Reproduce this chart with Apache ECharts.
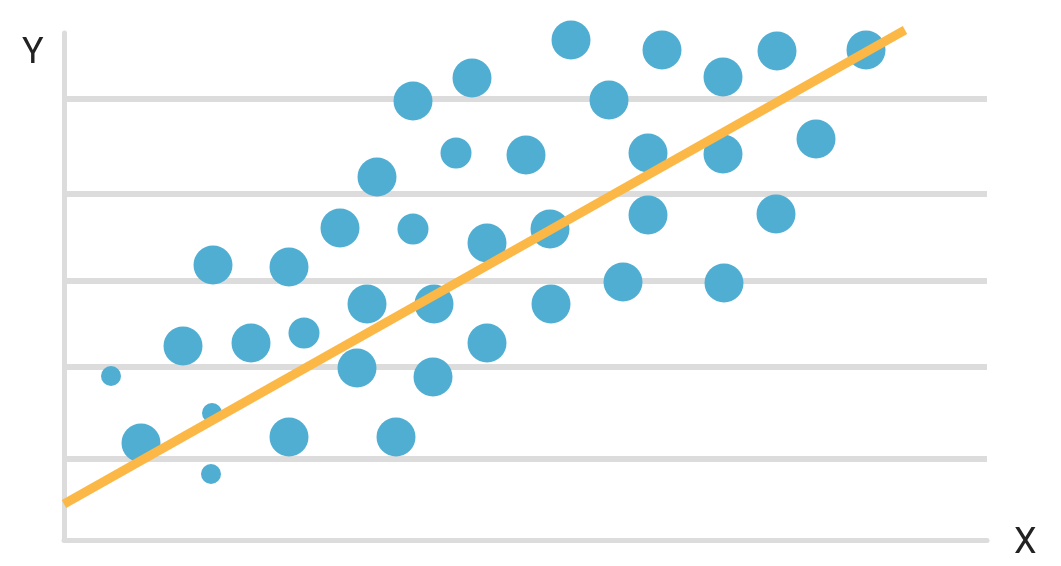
<!DOCTYPE html>
<html>
<head>
<meta charset="utf-8">
<script src="https://cdn.jsdelivr.net/npm/echarts@6/dist/echarts.min.js"></script>
<style>
html, body { margin: 0; padding: 0; background: #fff; }
#chart { width: 1061px; height: 566px; }
</style>
</head>
<body>
<div id="chart"></div>
<script>
// points: [x, y, weight]  (weight 1 = small, 2 = medium, 3 = large)
const points = [
  [47, 164, 1], [77, 97, 3], [148, 127, 1], [147, 66, 1], [119, 194, 3],
  [149, 275, 3], [187, 197, 3], [225, 273, 3], [240, 207, 2], [225, 103, 3],
  [276, 312, 3], [303, 236, 3], [293, 172, 3], [313, 363, 3], [332, 103, 3],
  [349, 439, 3], [349, 311, 2], [369, 163, 3], [370, 236, 3], [392, 387, 2],
  [408, 462, 3], [423, 297, 3], [423, 197, 3], [462, 385, 3], [486, 311, 3],
  [487, 236, 3], [507, 500, 3], [545, 440, 3], [559, 258, 3], [584, 387, 3],
  [584, 325, 3], [598, 490, 3], [659, 463, 3], [659, 386, 3], [660, 257, 3],
  [713, 489, 3], [712, 326, 3], [752, 401, 3], [802, 490, 3]
];
// trend line end points
const trend = [[0, 36], [841, 510]];
// horizontal guide levels
const levels = [81, 173, 259, 346, 441];

const chart = echarts.init(document.getElementById('chart'));
const sizeOf = { 1: 20, 2: 31, 3: 39 };

const option = {
  animation: false,
  grid: { left: 64, top: 33, width: 923, height: 507 },
  xAxis: {
    type: 'value', min: 0, max: 923,
    axisLine: { show: true, lineStyle: { color: '#dcdcdc', width: 5 } },
    axisTick: { show: false }, axisLabel: { show: false }, splitLine: { show: false }
  },
  yAxis: {
    type: 'value', min: 0, max: 507,
    axisLine: { show: true, lineStyle: { color: '#dcdcdc', width: 5 } },
    axisTick: { show: false }, axisLabel: { show: false }, splitLine: { show: false }
  },
  graphic: [
    { type: 'text', left: 22, top: 36, style: { text: 'Y', font: '36px Roboto', fill: '#222' } },
    { type: 'text', left: 1014, top: 526, style: { text: 'X', font: '36px Roboto', fill: '#222' } }
  ],
  series: [
    {
      type: 'scatter',
      data: points,
      z: 3,
      symbolSize: function (d) { return sizeOf[d[2]]; },
      itemStyle: { color: '#50aed3', opacity: 1 },
      markLine: {
        silent: true, symbol: 'none', z: 1,
        label: { show: false },
        lineStyle: { color: '#dcdcdc', width: 6, type: 'solid' },
        data: levels.map(function (v) { return { yAxis: v }; })
      }
    },
    {
      type: 'line',
      data: trend,
      z: 5,
      clip: false,
      symbol: 'none',
      lineStyle: { color: '#fbb846', width: 9 }
    }
  ]
};
chart.setOption(option);
</script>
</body>
</html>
